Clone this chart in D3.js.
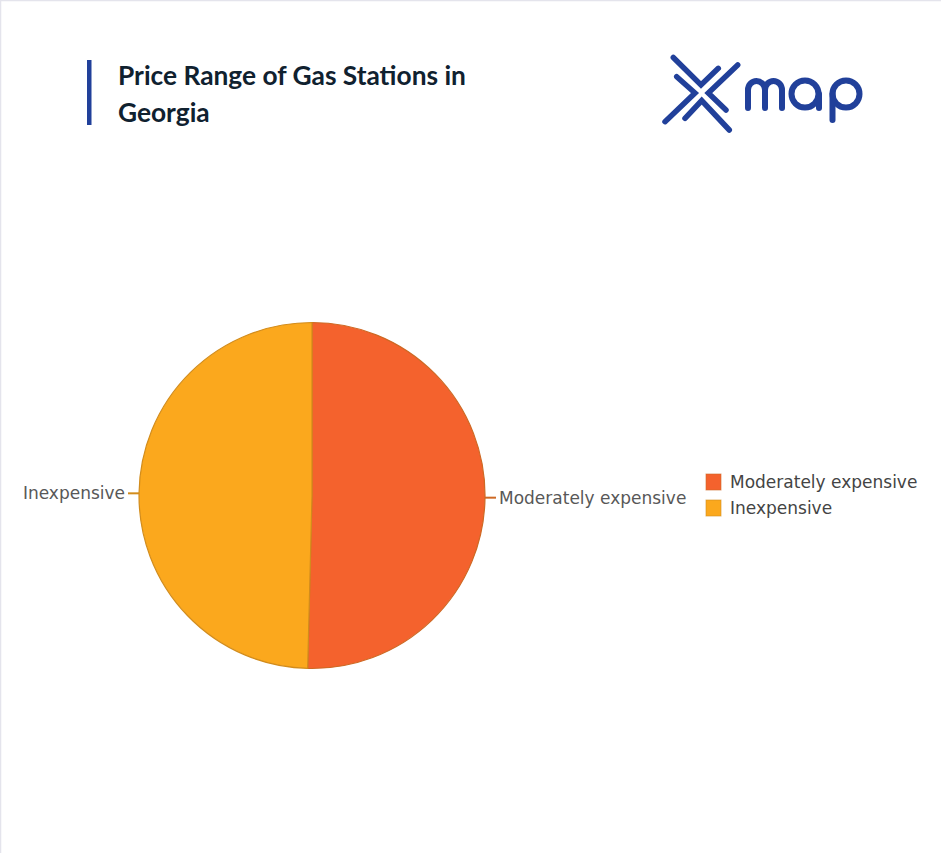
<!DOCTYPE html>
<html><head><meta charset="utf-8">
<title>Price Range of Gas Stations in Georgia</title>
<script src="https://cdn.jsdelivr.net/npm/d3@7"></script>
<style>
html, body { margin: 0; padding: 0; background: #fff; }
svg { display: block; }
</style>
</head>
<body>
<script>
// chart data
var categories = ["Moderately expensive", "Inexpensive"];
var shares = [50.4, 49.6];
var sliceColors = ["#f4622d", "#fba81d"];
var titleLines = ["Price Range of Gas Stations in", "Georgia"];

var width = 941, height = 853;
var labelFont = "'DejaVu Sans', Verdana, sans-serif";

var svg = d3.select("body").append("svg").attr("width", width).attr("height", height);

// page frame
svg.append("path").attr("d", "M0.5,853V0.5H941").attr("fill", "none").attr("stroke", "#e4e4ec").attr("stroke-width", 1.5);

// title block
svg.append("rect").attr("x", 87).attr("y", 60).attr("width", 4.5).attr("height", 65).attr("fill", "#21409a");
svg.append("g").selectAll("text").data(titleLines).enter().append("text")
	.attr("x", 118)
	.attr("y", function(d, i) { return 85 + i * 37; })
	.attr("font-family", "Lato, sans-serif")
	.attr("font-weight", 700)
	.attr("font-size", 26.3)
	.attr("fill", "#10212f")
	.text(function(d) { return d; });

// logo
var logo = svg.append("g").attr("fill", "none").attr("stroke", "#21409a").attr("stroke-linecap", "round").attr("stroke-linejoin", "miter");
var logoMarks = [
	"M673.3,57.5L701,85L718.3,68.3",
	"M737.7,65L708.3,93L726,110",
	"M685,118.3L701.7,100.5L729.3,130",
	"M676.7,76.7L695,93L665,121.7"
];
logo.selectAll("path.x").data(logoMarks).enter().append("path")
	.attr("class", "x").attr("d", function(d) { return d; }).attr("stroke-width", 5.5);
var logoType = logo.append("g").attr("stroke-width", 6);
logoType.append("path").attr("d", "M748,108V90A8.5,9 0 0 1 765,90V108M765,90A8.5,9 0 0 1 782,90V108");
logoType.append("circle").attr("cx", 805).attr("cy", 94).attr("r", 13.5);
logoType.append("path").attr("d", "M819,94V108");
logoType.append("circle").attr("cx", 846).attr("cy", 94).attr("r", 13.5);
logoType.append("path").attr("d", "M832.5,94V120");

// pie
var cx = 312, cy = 495.5, radius = 173;
var pie = d3.pie().sort(null).value(function(d) { return d; });
var arc = d3.arc().innerRadius(0).outerRadius(radius);
var color = d3.scaleOrdinal().domain(categories).range(sliceColors);
var slices = pie(shares).map(function(d, i) { d.name = categories[i]; return d; });
var edge = function(name) { return d3.interpolateRgb(color(name), "#a8701a")(0.5); };

var g = svg.append("g").attr("transform", "translate(" + cx + "," + cy + ")");
g.selectAll("path.slice").data(slices).enter().append("path")
	.attr("class", "slice")
	.attr("d", arc)
	.attr("fill", function(d) { return color(d.name); })
	.attr("stroke", function(d) { return edge(d.name); })
	.attr("stroke-width", 1.2);

// leader lines and outside labels
var midAngle = function(d) { return (d.startAngle + d.endAngle) / 2; };
g.selectAll("line.leader").data(slices).enter().append("line")
	.attr("class", "leader")
	.attr("x1", function(d) { return Math.sin(midAngle(d)) * radius; })
	.attr("x2", function(d) { return Math.sin(midAngle(d)) * (radius + 11); })
	.attr("y1", function(d) { return -Math.cos(midAngle(d)) * radius; })
	.attr("y2", function(d) { return -Math.cos(midAngle(d)) * radius; })
	.attr("stroke", function(d) { return edge(d.name); })
	.attr("stroke-width", 2);
g.selectAll("text.label").data(slices).enter().append("text")
	.attr("class", "label")
	.attr("x", function(d) { return Math.sin(midAngle(d)) * (radius + 14); })
	.attr("y", function(d) { return -Math.cos(midAngle(d)) * radius + 6; })
	.attr("text-anchor", function(d) { return midAngle(d) < Math.PI ? "start" : "end"; })
	.attr("font-family", labelFont)
	.attr("font-size", 17)
	.attr("fill", "#585858")
	.text(function(d) { return d.name; });

// legend
var legendY = d3.scalePoint().domain(categories).range([482, 508]);
var legend = svg.append("g").selectAll("g").data(categories).enter().append("g")
	.attr("transform", function(d) { return "translate(706," + legendY(d) + ")"; });
legend.append("rect")
	.attr("x", 0).attr("y", -8).attr("width", 15).attr("height", 16)
	.attr("fill", function(d) { return color(d); })
	.attr("stroke", function(d) { return d3.color(edge(d)).copy({opacity: 0.6}); });
legend.append("text")
	.attr("x", 24).attr("y", 6)
	.attr("font-family", labelFont)
	.attr("font-size", 17)
	.attr("fill", "#444")
	.text(function(d) { return d; });
</script>
</body></html>
